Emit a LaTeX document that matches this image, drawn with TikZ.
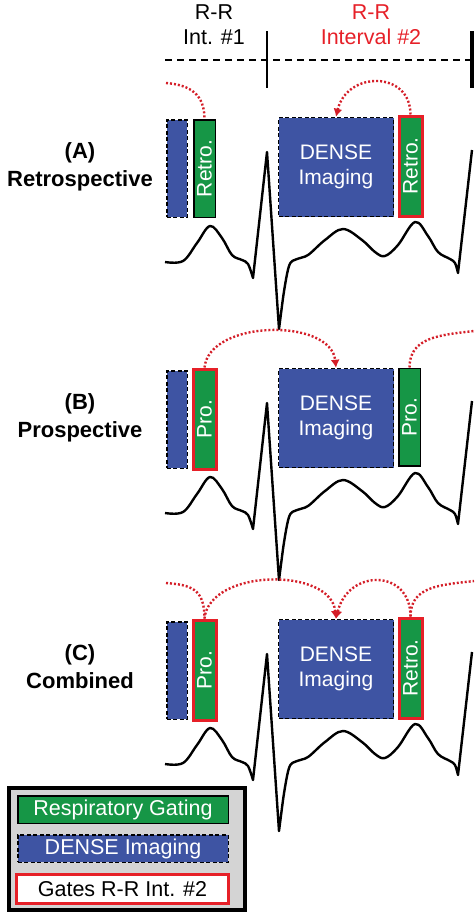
\documentclass[tikz,border=0pt]{standalone}
\usepackage{fontspec}
\setmainfont{Liberation Sans}
\usepackage{graphicx}
\usetikzlibrary{arrows.meta}

\definecolor{denseblue}{RGB}{62,84,163}
\definecolor{respgreen}{RGB}{22,150,70}
\definecolor{gatered}{RGB}{230,32,40}
\definecolor{trigred}{RGB}{212,30,40}
\definecolor{legendgrey}{RGB}{212,212,212}

\begin{document}
\begin{tikzpicture}[x=1pt,y=-1pt,
        base/.style={inner sep=0pt,font=\fontsize{21}{25}\selectfont,align=center},
        dense/.style={base,draw=black,line width=1.5pt,dash pattern=on 4pt off 2.5pt,fill=denseblue,text=white},
        resp/.style={base,draw=black,line width=1.5pt,fill=respgreen,text=white,
            minimum width=21.5,minimum height=97.5},
        gated/.style={draw=gatered,line width=3pt,minimum width=23,minimum height=100},
        tag/.style={inner sep=0pt,font=\bfseries\fontsize{22}{28}\selectfont,align=center,anchor=north},
        head/.style={inner sep=0pt,font=\fontsize{21.5}{25}\selectfont,align=center,anchor=north},
        trig/.style={draw=trigred,line width=2.4pt,dash pattern=on 2pt off 2pt,line cap=butt},
        ecg/.style={line width=2.4pt,line join=round}]
        \useasboundingbox (0,0) rectangle (474,913);

        % header
        \node[head] (int1) at (214,5) {R-R\\Int. \#1};
        \node[head,text=gatered] (int2) at (371,5) {R-R\\Interval \#2};
        \draw[line width=2pt,dash pattern=on 7pt off 5pt] (165,60) -- (474,60);
        \draw[line width=2pt] (267,31) -- (267,88);
        \draw[line width=3.5pt] (472,31) -- (472,88);

        % ecg traces + leftover imaging
        \foreach \p/\d in {A/0,B/251,C/502}{
          \begin{scope}[shift={(0,\d)}]
            \draw[ecg] plot[smooth,tension=0.6] coordinates {(165,262) (183,261) (197,243) (210,226)
                (222,238) (232,255) (242,260) (248,264) (253,278)}
              -- (267,152) -- (279,329)
              -- plot[smooth,tension=0.6] coordinates {(283,298) (289,266) (297,259) (308,255)
                (325,240) (343,229) (362,240) (375,252) (385,256) (398,245) (415,222) (428,236)
                (438,252) (450,259) (455,263) (458,273)}
              -- (472,150);
          \end{scope}
          \node[dense,minimum width=20.5,minimum height=97.5] (pre\p) at (177,168.5+\d) {};
        }

        % (A) retrospective
        \node[tag] (labA) at (80,142) {(A)\\Retrospective};
        \node[resp] (retroA1) at (204.5,168.5) {\rotatebox{90}{Retro.}};
        \node[dense,minimum width=115,minimum height=99] (denseA) at (336,167) {DENSE\\Imaging};
        \node[resp,gated] (retroA2) at (410.5,166) {\rotatebox{90}{Retro.}};
        \coordinate (inA) at (166,83);
        \draw[trig] (inA) .. controls +(25,2) and +(0,-24) .. (retroA1.north);
        \draw[trig,-{Latex[length=8pt,width=9pt]}] (retroA2.north) .. controls +(0,-44) and +(11,-46) .. (denseA.north);

        % (B) prospective
        \node[tag] (labB) at (80,393) {(B)\\Prospective};
        \node[resp,gated] (proB1) at (204.5,419) {\rotatebox{90}{Pro.}};
        \node[dense,minimum width=115,minimum height=99] (denseB) at (336,418) {DENSE\\Imaging};
        \node[resp] (proB2) at (409.5,417) {\rotatebox{90}{Pro.}};
        \coordinate (outB) at (474,331);
        \draw[trig,-{Latex[length=8pt,width=9pt]}] (proB1.north) .. controls +(5,-48) and +(-5,-50) .. (denseB.north);
        \draw[trig] (proB2.north) .. controls +(0,-30) and +(-35,4) .. (outB);

        % (C) combined
        \node[tag] (labC) at (80,644) {(C)\\Combined};
        \node[resp,gated] (proC) at (204.5,670) {\rotatebox{90}{Pro.}};
        \node[dense,minimum width=115,minimum height=99] (denseC) at (336,669) {DENSE\\Imaging};
        \node[resp,gated] (retroC) at (410.5,668) {\rotatebox{90}{Retro.}};
        \coordinate (inC) at (166,583);
        \coordinate (outC) at (474,581);
        \draw[trig] (inC) .. controls +(25,2) and +(0,-30) .. (proC.north);
        \draw[trig,-{Latex[length=8pt,width=9pt]}] (proC.north) .. controls +(5,-50) and +(-5,-52) .. (denseC.north);
        \draw[trig,-{Latex[length=8pt,width=9pt]}] (retroC.north) .. controls +(0,-48) and +(12,-50) .. (denseC.north);
        \draw[trig] (retroC.north) .. controls +(0,-30) and +(-35,4) .. (outC);

        % legend
        \node[draw=black,line width=4pt,fill=legendgrey,minimum width=236,minimum height=122] (legend) at (127,849) {};
        \node[resp,font=\fontsize{21.5}{25}\selectfont,minimum width=210.5,minimum height=27.5] (legResp) at (123,809.5) {Respiratory Gating};
        \node[dense,font=\fontsize{21.5}{25}\selectfont,minimum width=210.5,minimum height=27.5] (legDense) at (123,848.5) {DENSE Imaging};
        \node[base,draw=gatered,line width=3pt,fill=white,font=\fontsize{21.5}{25}\selectfont,minimum width=212,minimum height=29] (legGate) at (122.5,889) {Gates R-R Int. \#2};
\end{tikzpicture}
\end{document}
